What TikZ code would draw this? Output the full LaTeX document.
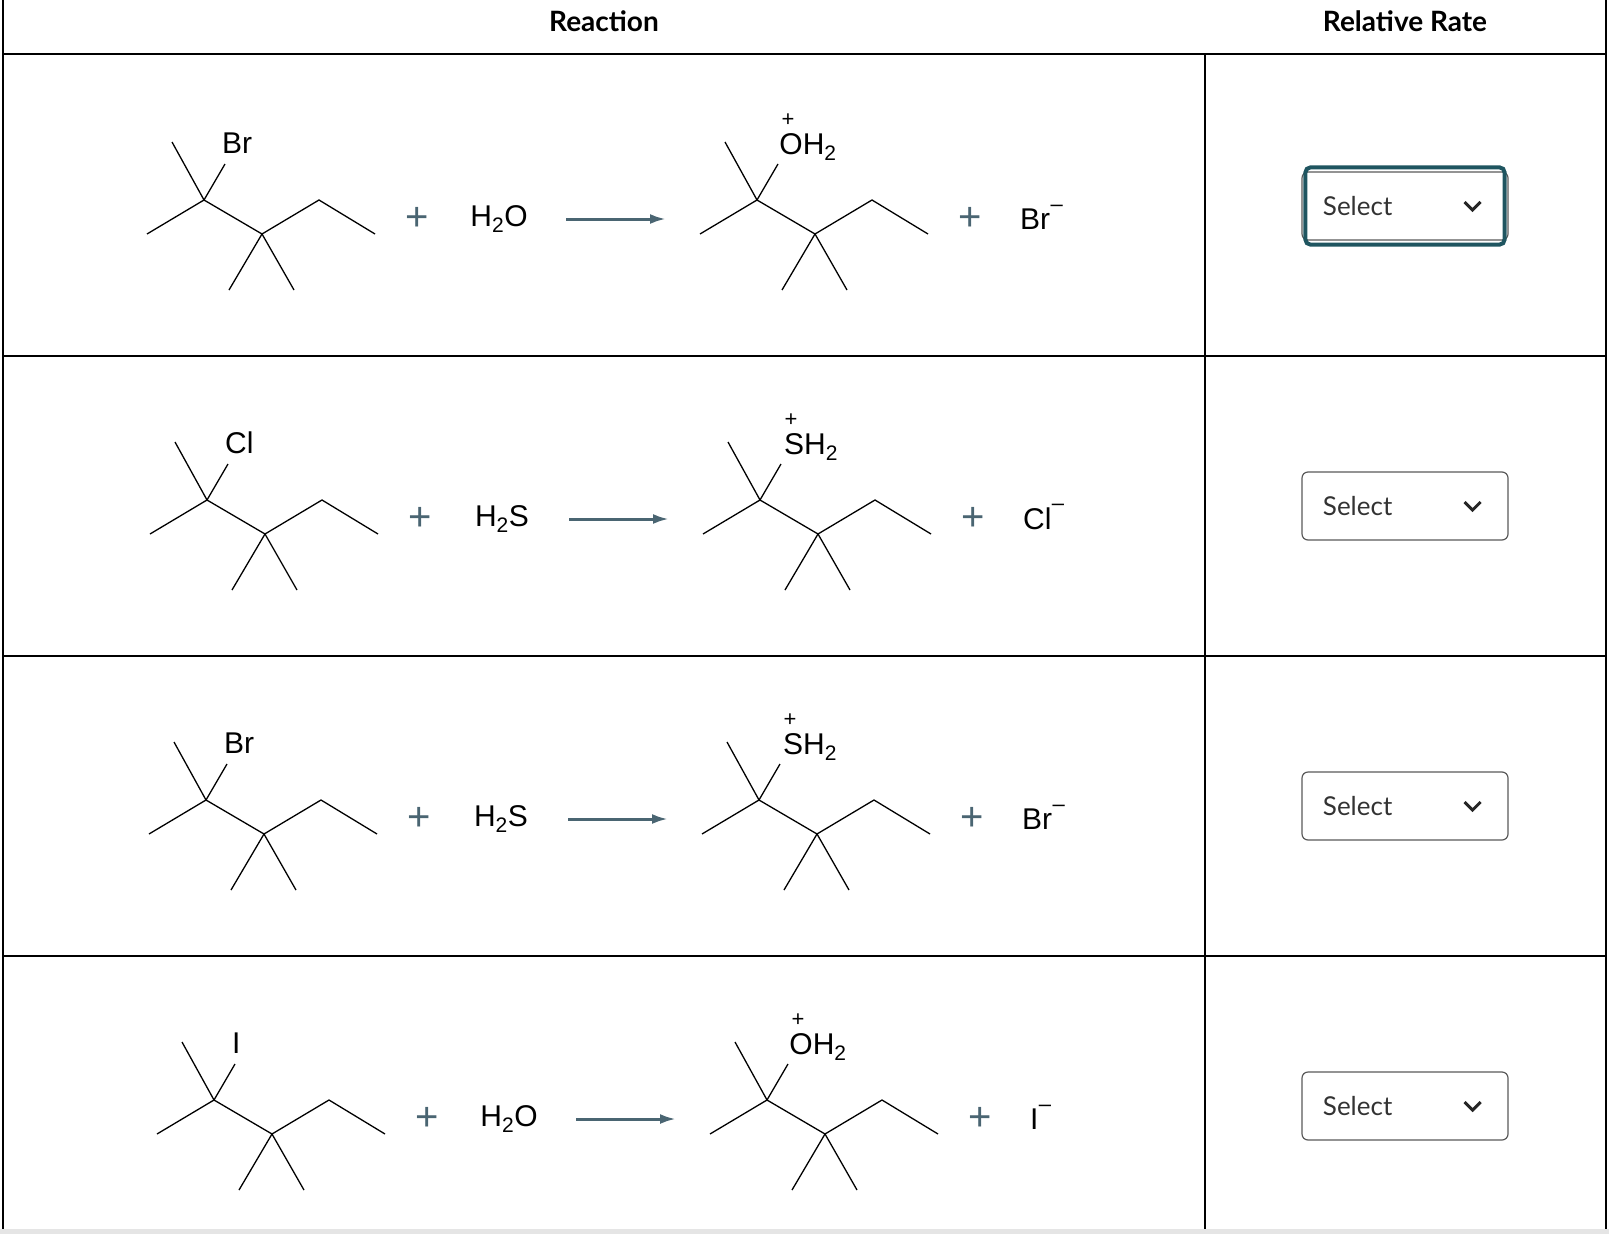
\documentclass[tikz,border=0pt]{standalone}
\usepackage{fontspec}
\setmainfont{Liberation Sans}
\newfontfamily\uifont{Lato}
\usetikzlibrary{arrows.meta}
\definecolor{arrowgray}{HTML}{4A6572}
\definecolor{focusteal}{HTML}{1F5560}
\newcommand{\skel}[3]{% skeleton: shift x, shift y, substituent label
\begin{scope}[shift={(#1,#2)}]
\coordinate (c2) at (0,0); \coordinate (c3) at (58,34);
\draw[bond] (-57,34) -- (c2) -- (c3) -- (115,0) -- (171,34);
\draw[bond] (-32,-58) -- (c2) -- (21,-36);
\draw[bond] (25,90) -- (c3) -- (90,90);
\node[chem,anchor=west] (sub) at (18,-57) {#3};
\end{scope}}
\begin{document}
\begin{tikzpicture}[x=1pt,y=-1pt,
  bond/.style={line width=1.3pt},
  chem/.style={font=\fontsize{30}{32}\selectfont,inner sep=0pt},
  plus/.style={font=\fontsize{40}{40}\selectfont,text=arrowgray,inner sep=0pt},
  rxn/.style={-{Latex[length=16pt,width=10pt]},line width=3pt,arrowgray},
  head/.style={font=\uifont\bfseries\fontsize{28}{30}\selectfont},
  selbox/.style={draw=gray!70!black,line width=1.2pt,rounded corners=6pt,minimum width=206pt,minimum height=68pt},
  grid/.style={line width=1.5pt}]
\useasboundingbox (0,0) rectangle (1609,1234);
\fill[gray!20] (0,1229) rectangle (1609,1234);
% table
\draw[grid] (3,0) -- (3,1229);
\draw[grid] (1606,0) -- (1606,1229);
\draw[grid] (3,54) -- (1606,54);
\foreach \y in {356,656,956} \draw[grid] (3,\y) -- (1606,\y);
\draw[grid] (1205,54) -- (1205,1229);
\node[head] (hreact) at (604,21) {Reaction};
\node[head] (hrate) at (1405,21) {Relative Rate};
% rows
\foreach \i/\dx/\sub/\nuc/\prod/\lg in {0/0/Br/H\textsubscript{2}O/OH\textsubscript{2}/Br,
  1/3/Cl/H\textsubscript{2}S/SH\textsubscript{2}/Cl,
  2/2/Br/H\textsubscript{2}S/SH\textsubscript{2}/Br,
  3/10/I/H\textsubscript{2}O/OH\textsubscript{2}/I}{
  \pgfmathsetmacro{\yy}{200+300*\i}
  \skel{204+\dx}{\yy}{\sub}
  \node[plus] (pa\i) at (417+\dx,\yy+19) {+};
  \node[chem] (nu\i) at (499+\dx,\yy+19) {\nuc};
  \coordinate (as\i) at (566+\dx,\yy+19);
  \coordinate (ae\i) at (666+\dx,\yy+19);
  \draw[rxn] (as\i) -- (ae\i);
  \skel{757+\dx}{\yy}{}
  \node[chem] (pr\i) at (808+\dx,\yy-53) {\prod};
  \node[chem,font=\fontsize{22}{22}\selectfont] (pc\i) at (788+\dx,\yy-80) {+};
  \node[plus] (pb\i) at (970+\dx,\yy+19) {+};
  \node[chem,anchor=west] (lg\i) at (1020+\dx,\yy+19) {\lg};
  \node[chem,font=\fontsize{22}{22}\selectfont,anchor=west] (lm\i) at (lg\i.north east) {--};
  \node[selbox] (sel\i) at (1405,\yy+6) {};
  \node[anchor=west,font=\uifont\fontsize{26}{28}\selectfont,text=black!80] (st\i) at ([xshift=18pt]sel\i.west) {Select};
  \draw[line width=3pt,black!85] ([xshift=-44pt,yshift=4pt]sel\i.east) -- ([xshift=-36pt,yshift=-4pt]sel\i.east) -- ([xshift=-28pt,yshift=4pt]sel\i.east);
}
% focused first box
\draw[focusteal,line width=4pt,rounded corners=5pt] ([shift={(4pt,-4pt)}]sel0.south west) rectangle ([shift={(-4pt,4pt)}]sel0.north east);
\end{tikzpicture}
\end{document}
